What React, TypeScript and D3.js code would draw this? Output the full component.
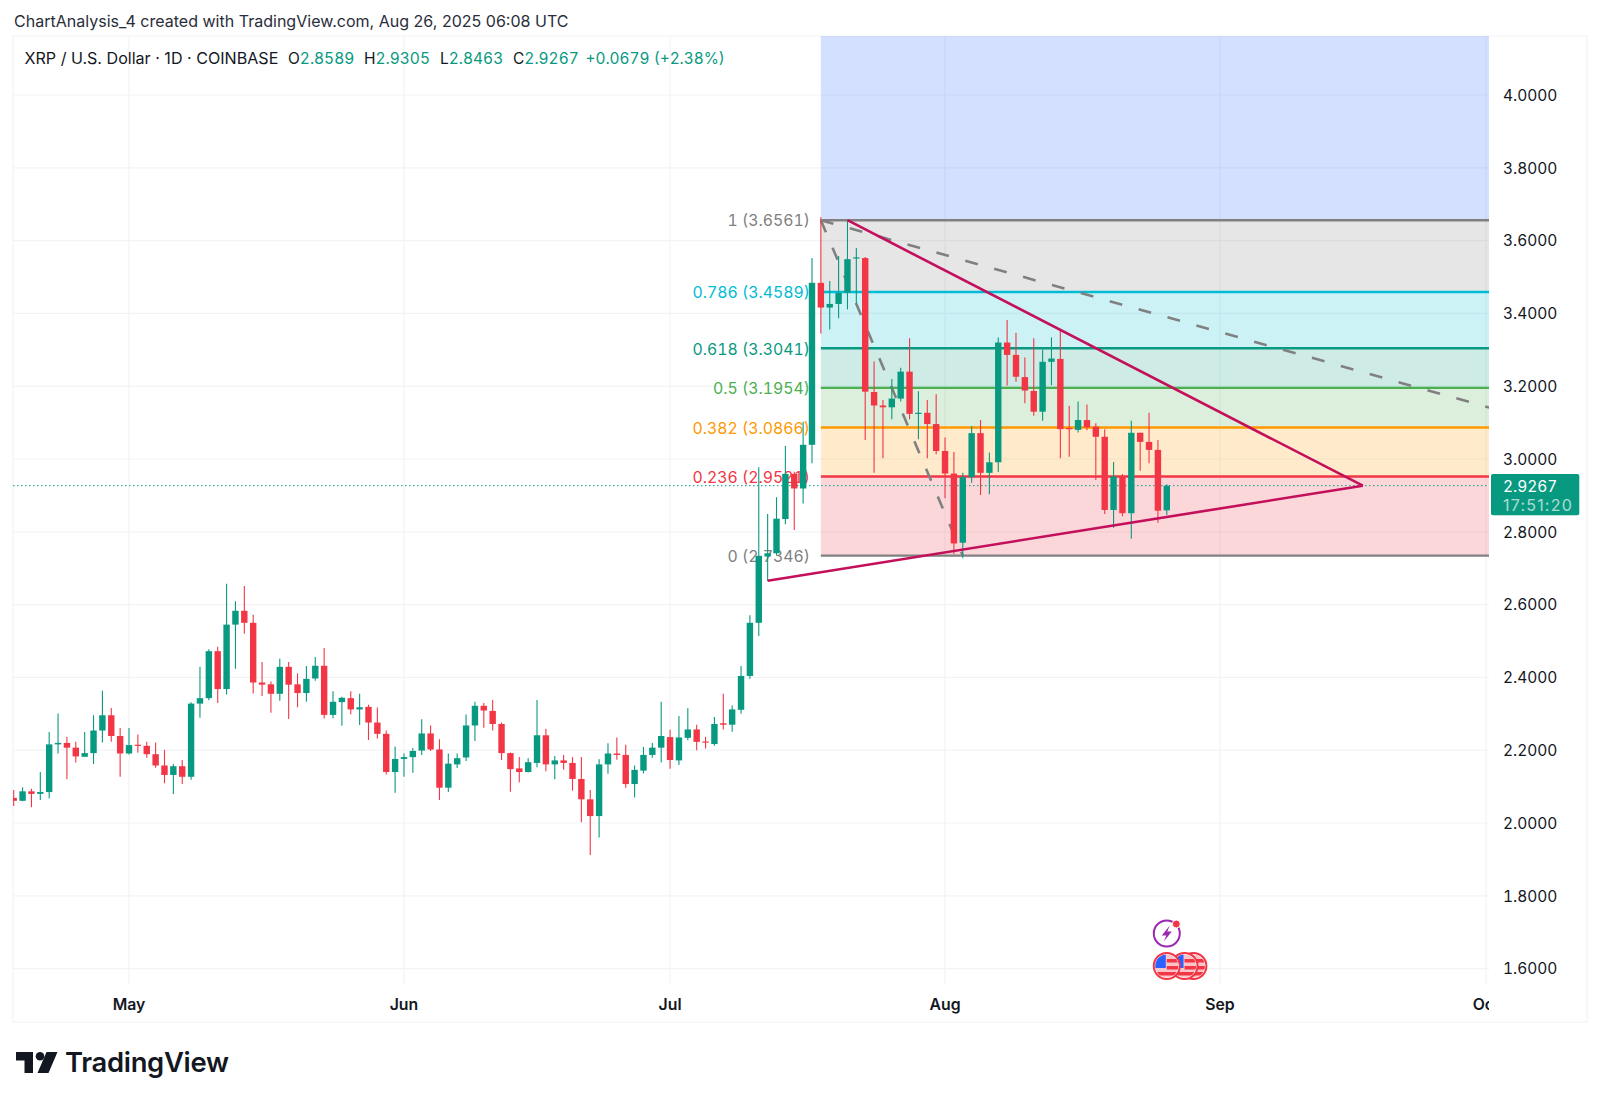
import * as d3 from 'd3'
import React from 'react'

const opens = [2.069,2.061,2.087,2.080,2.085,2.216,2.220,2.207,2.182,2.192,2.254,2.296,2.239,2.191,2.215,2.212,2.189,2.158,2.132,2.156,2.127,2.328,2.343,2.472,2.368,2.545,2.583,2.550,2.386,2.381,2.355,2.429,2.381,2.357,2.397,2.432,2.297,2.332,2.343,2.312,2.319,2.276,2.245,2.140,2.176,2.181,2.199,2.246,2.202,2.097,2.161,2.180,2.268,2.322,2.308,2.272,2.192,2.150,2.140,2.165,2.241,2.161,2.172,2.165,2.121,2.065,2.019,2.161,2.191,2.187,2.107,2.144,2.187,2.207,2.236,2.172,2.234,2.257,2.224,2.217,2.274,2.270,2.311,2.404,2.550,2.732,2.741,2.835,2.959,2.919,3.039,3.484,3.416,3.426,3.457,3.551,3.552,3.184,3.147,3.142,3.166,3.240,3.125,3.127,3.096,3.022,2.960,2.770,2.950,3.071,2.962,2.991,3.320,3.286,3.225,3.187,3.130,3.267,3.275,3.085,3.080,3.107,3.089,3.061,2.860,2.952,2.851,3.072,3.047,3.025,2.8589]
const highs = [2.091,2.098,2.094,2.140,2.250,2.301,2.237,2.223,2.250,2.296,2.363,2.316,2.261,2.261,2.243,2.223,2.221,2.201,2.162,2.173,2.332,2.429,2.477,2.484,2.657,2.609,2.651,2.572,2.442,2.389,2.451,2.442,2.411,2.431,2.456,2.481,2.362,2.347,2.362,2.355,2.325,2.317,2.254,2.210,2.191,2.206,2.285,2.268,2.230,2.191,2.191,2.298,2.333,2.330,2.338,2.276,2.194,2.181,2.178,2.338,2.259,2.184,2.187,2.181,2.181,2.091,2.175,2.219,2.235,2.215,2.158,2.209,2.220,2.333,2.256,2.294,2.315,2.270,2.237,2.291,2.355,2.323,2.431,2.571,2.977,2.849,2.895,3.036,2.965,3.102,3.552,3.664,3.489,3.558,3.655,3.580,3.555,3.268,3.162,3.220,3.251,3.332,3.186,3.162,3.178,3.059,3.019,2.962,3.091,3.107,3.018,3.334,3.382,3.347,3.279,3.332,3.301,3.334,3.353,3.146,3.158,3.150,3.098,3.082,2.992,2.959,3.105,3.072,3.127,3.052,2.9305]
const lows = [2.047,2.060,2.043,2.063,2.067,2.191,2.120,2.166,2.182,2.162,2.221,2.223,2.127,2.188,2.193,2.179,2.152,2.109,2.080,2.107,2.119,2.289,2.337,2.330,2.353,2.424,2.520,2.356,2.349,2.303,2.336,2.286,2.318,2.333,2.391,2.287,2.288,2.267,2.299,2.269,2.228,2.232,2.133,2.083,2.127,2.138,2.187,2.198,2.063,2.085,2.151,2.170,2.225,2.262,2.254,2.173,2.086,2.112,2.139,2.153,2.142,2.120,2.146,2.089,2.002,1.912,1.960,2.135,2.174,2.097,2.070,2.136,2.179,2.166,2.149,2.159,2.227,2.200,2.205,2.212,2.257,2.251,2.300,2.396,2.514,2.665,2.735,2.821,2.805,2.878,2.988,3.345,3.356,3.387,3.411,3.428,3.052,2.962,3.002,3.109,3.158,3.109,3.054,3.002,3.013,2.892,2.739,2.727,2.935,2.901,2.903,2.964,3.202,3.212,3.153,3.119,3.105,3.203,3.002,3.006,3.073,3.079,2.942,2.849,2.811,2.843,2.781,2.968,2.988,2.825,2.8463]
const closes = [2.061,2.087,2.080,2.085,2.216,2.220,2.207,2.183,2.192,2.254,2.296,2.239,2.191,2.214,2.213,2.189,2.158,2.132,2.156,2.127,2.328,2.343,2.472,2.368,2.545,2.583,2.550,2.386,2.380,2.355,2.429,2.380,2.357,2.396,2.432,2.297,2.333,2.344,2.312,2.318,2.276,2.245,2.140,2.176,2.181,2.198,2.246,2.202,2.097,2.163,2.178,2.268,2.322,2.309,2.272,2.192,2.148,2.140,2.167,2.241,2.161,2.172,2.165,2.121,2.065,2.019,2.161,2.191,2.187,2.107,2.146,2.187,2.207,2.239,2.173,2.235,2.257,2.223,2.222,2.272,2.270,2.312,2.404,2.550,2.734,2.741,2.836,2.959,2.919,3.039,3.484,3.416,3.426,3.456,3.549,3.554,3.185,3.147,3.142,3.166,3.240,3.124,3.127,3.096,3.022,2.960,2.768,2.950,3.071,2.962,2.991,3.320,3.286,3.226,3.188,3.130,3.267,3.276,3.082,3.082,3.107,3.087,3.061,2.860,2.952,2.851,3.072,3.047,3.025,2.858,2.9267]

const priceTicks = [1.6, 1.8, 2.0, 2.2, 2.4, 2.6, 2.8, 3.0, 3.2, 3.4, 3.6, 3.8, 4.0]
const monthTicks = ['2025-05-01', '2025-06-01', '2025-07-01', '2025-08-01', '2025-09-01', '2025-10-01']
const monthLabels = ['May', 'Jun', 'Jul', 'Aug', 'Sep', 'Oct']

const fibRatios = ['1', '0.786', '0.618', '0.5', '0.382', '0.236', '0']
const fibPrices = [3.6561, 3.4589, 3.3041, 3.1954, 3.0866, 2.9521, 2.7346]
const fibColors = ['#808080', '#00bcd4', '#089981', '#4caf50', '#ff9800', '#f23645', '#808080']

const UP = '#089981'
const DOWN = '#f23645'
const FONT = 'Inter, "Noto Sans", sans-serif'
const TNUM = { fontVariantNumeric: 'tabular-nums' }

const firstDay = new Date(Date.UTC(2025, 3, 18))
const dayAt = (i: number) => new Date(firstDay.getTime() + i * 86400000)

const xScale = d3.scaleUtc()
  .domain([firstDay, dayAt(166)])
  .range([13.7, 1486.1])

const yScale = d3.scaleLinear()
  .domain([1.6, 4.0])
  .range([968.6, 95])

const pane = { left: 13, right: 1489, top: 36, bottom: 1022, outerRight: 1587 }
const candleWidth = 6.4

// fib and trendlines, as day index + price
const fibStart = 91.0
const wedgeDown = [[94, 3.656], [152.1, 2.9266]]
const wedgeUp = [[85, 2.6657], [152.1, 2.9266]]
const dashTrend = [[91, 3.6561], [107, 2.7346]]
const dashRay = [[91, 3.6561], [166.4, 3.141]]

const trendLine = d3.line<number[]>()
  .x(d => xScale(dayAt(d[0])))
  .y(d => yScale(d[1]))

function FlagIcon({ x, y, id }: { x: number; y: number; id: string }) {
  return (
    <g transform={`translate(${x},${y})`}>
      <clipPath id={id}><circle r={11.5} /></clipPath>
      <circle r={13} fill="#fff" stroke="#f23645" strokeWidth={2} />
      <g clipPath={`url(#${id})`}>
        <rect x={-12} y={-12} width={24} height={24} fill="#f9c5ca" />
        <rect x={0} y={-7} width={12} height={3.5} fill="#f23645" />
        <rect x={0} y={0} width={12} height={3.5} fill="#f23645" />
        <rect x={-12} y={6} width={24} height={3.5} fill="#f23645" />
        <rect x={-12} y={-12} width={11} height={14} fill="#2962ff" />
      </g>
    </g>
  )
}

export default function App() {
  const paneW = pane.right - pane.left
  const fibX = xScale(dayAt(fibStart))
  const lastPrice = closes[closes.length - 1]
  const lastY = yScale(lastPrice)

  return (
    <svg width={1600} height={1102} style={{ position: 'absolute', left: 0, top: 0, background: '#fff' }} fontFamily={FONT}>
      <clipPath id="pane"><rect x={pane.left} y={pane.top} width={paneW} height={pane.bottom - pane.top} /></clipPath>

      <text x={14} y={26.5} fontSize={16.05} fill="#2a2e39">ChartAnalysis_4 created with TradingView.com, Aug 26, 2025 06:08 UTC</text>

      {/* frame */}
      <rect x={pane.left} y={pane.top} width={pane.outerRight - pane.left} height={pane.bottom - pane.top} fill="none" stroke="#f0f1f3" />

      {/* grid */}
      {priceTicks.map(p => (
        <line key={p} x1={pane.left} x2={pane.right} y1={yScale(p)} y2={yScale(p)} stroke="#f2f3f5" strokeWidth={1.2} />
      ))}
      {monthTicks.map(m => (
        <line key={m} x1={xScale(new Date(m))} x2={xScale(new Date(m))} y1={pane.top} y2={984} stroke="#f2f3f5" strokeWidth={1.2} />
      ))}

      {/* fib bands */}
      <g clipPath="url(#pane)">
        <rect x={fibX} y={pane.top} width={pane.right - fibX} height={yScale(fibPrices[0]) - pane.top} fill="#2962ff" opacity={0.2} />
        {fibPrices.slice(0, -1).map((p, i) => (
          <rect key={p} x={fibX} y={yScale(p)} width={pane.right - fibX} height={yScale(fibPrices[i + 1]) - yScale(p)} fill={fibColors[i]} opacity={0.2} />
        ))}
        {fibPrices.map((p, i) => (
          <line key={p} x1={fibX} x2={pane.right} y1={yScale(p)} y2={yScale(p)} stroke={fibColors[i]} strokeWidth={2.4} />
        ))}
      </g>
      {fibPrices.map((p, i) => (
        <text key={p} x={fibX - 11} y={yScale(p) + 0.6} dy="0.36em" textAnchor="end" fontSize={15.8} fill={fibColors[i]} style={TNUM}>
          {fibRatios[i]} ({p.toFixed(4)})
        </text>
      ))}

      {/* last price line */}
      <line x1={pane.left} x2={pane.right} y1={lastY} y2={lastY} stroke={UP} strokeWidth={1} strokeDasharray="1.5 2.5" />

      {/* dashed fib trend */}
      <g clipPath="url(#pane)" fill="none" stroke="#808080" strokeWidth={2.6} strokeDasharray="13 17">
        <path d={trendLine(dashTrend) ?? ''} />
        <path d={trendLine(dashRay) ?? ''} />
      </g>

      {/* candles */}
      <g clipPath="url(#pane)">
        {closes.map((c, i) => {
          const x = xScale(dayAt(i))
          const o = opens[i]
          const color = c >= o ? UP : DOWN
          const top = yScale(Math.max(o, c))
          const bottom = yScale(Math.min(o, c))
          return (
            <g key={i}>
              <line x1={x} x2={x} y1={yScale(highs[i])} y2={yScale(lows[i])} stroke={color} strokeWidth={1.1} />
              <rect x={x - candleWidth / 2} y={top} width={candleWidth} height={Math.max(bottom - top, 1.2)} fill={color} />
            </g>
          )
        })}
      </g>

      {/* wedge */}
      <g clipPath="url(#pane)" fill="none" stroke="#c4105a" strokeWidth={2.6}>
        <path d={trendLine(wedgeDown) ?? ''} />
        <path d={trendLine(wedgeUp) ?? ''} />
      </g>

      {/* legend */}
      <text x={24.5} y={63.5} fontSize={16.1} fill="#131722">XRP / U.S. Dollar · 1D · COINBASE</text>
      {[
        ['O', '2.8589', 288],
        ['H', '2.9305', 364],
        ['L', '2.8463', 440],
        ['C', '2.9267', 513],
      ].map(([k, v, x]) => (
        <text key={k as string} x={x as number} y={63.5} fontSize={15.5} fill="#131722" style={TNUM}>
          {k}<tspan fill={UP}>{v}</tspan>
        </text>
      ))}
      <text x={585.5} y={63.5} fontSize={15.4} fill={UP} style={TNUM}>+0.0679 (+2.38%)</text>

      {/* price axis */}
      {priceTicks.map(p => (
        <text key={p} x={1503} y={yScale(p) + 0.3} dy="0.36em" fontSize={15.5} fill="#131722" style={TNUM}>{p.toFixed(4)}</text>
      ))}
      <rect x={1491} y={474} width={88.3} height={41.3} fill={UP} rx={2} />
      <text x={1503} y={486} dy="0.36em" fontSize={15.5} fill="#fff" style={TNUM}>{lastPrice.toFixed(4)}</text>
      <text x={1503} y={505} dy="0.36em" fontSize={16} letterSpacing={1.2} fill="#fff" opacity={0.65}>17:51:20</text>

      {/* time axis */}
      <g clipPath="url(#pane)">
        {monthTicks.map((m, i) => (
          <text key={m} x={xScale(new Date(m))} y={1004.5} dy="0.36em" textAnchor="middle" fontSize={15.8} fontWeight={600} fill="#131722">{monthLabels[i]}</text>
        ))}
      </g>

      {/* event markers */}
      <FlagIcon x={xScale(dayAt(133))} y={966} id="flag-c" />
      <FlagIcon x={xScale(dayAt(132))} y={966} id="flag-b" />
      <FlagIcon x={xScale(dayAt(130))} y={966} id="flag-a" />
      <g transform={`translate(${xScale(dayAt(130))},933.5)`}>
        <circle r={13} fill="#fff" stroke="#9c27b0" strokeWidth={2} />
        <path d="M3 -8 L-5 2 L-0.5 2 L-3 8 L5 -2 L0.5 -2 Z" fill="#9c27b0" />
        <circle cx={9.5} cy={-9.5} r={4} fill="#f23645" stroke="#fff" strokeWidth={1} />
      </g>

      {/* logo */}
      <path d="M16 1052 H33 V1073 H24.5 V1060.5 H16 Z" fill="#131722" />
      <circle cx={40} cy={1056.3} r={4.3} fill="#131722" />
      <path d="M46.5 1052 H57.5 L48.5 1073 H37.5 Z" fill="#131722" />
      <text x={65} y={1072} fontSize={27.4} fontWeight={600} fill="#131722" letterSpacing={-0.3}>TradingView</text>
    </svg>
  )
}
